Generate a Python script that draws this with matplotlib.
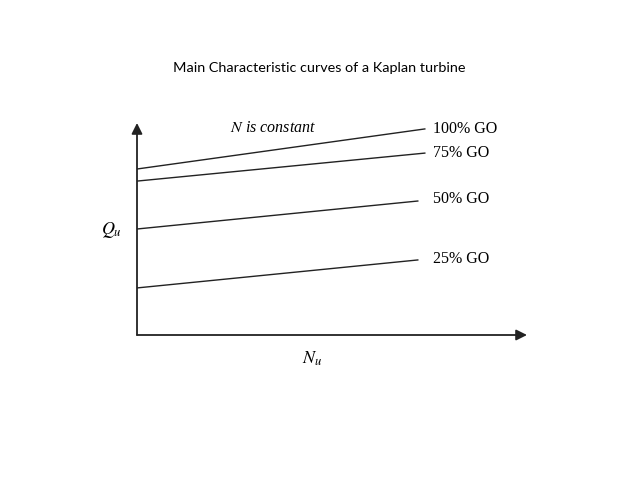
import matplotlib.pyplot as plt

plt.rcParams['mathtext.fontset'] = 'stix'

# gate opening curves: Q_u against N_u (axis units 0..100)
labels = ['100% GO', '75% GO', '50% GO', '25% GO']
n_start = [0, 0, 0, 0]
n_end = [73.8, 73.8, 72.0, 72.0]
q_start = [78.3, 72.6, 50.0, 22.2]
q_end = [97.2, 85.8, 63.2, 35.4]
label_q = [97.2, 85.8, 64.0, 35.8]

fig = plt.figure(figsize=(6.38, 4.78), dpi=100)
fig.text(0.5, 1 - 68 / 478, 'Main Characteristic curves of a Kaplan turbine',
         ha='center', va='center', fontsize=10.4, family='Lato')

ax = fig.add_axes([137 / 638, (478 - 335) / 478, 390 / 638, 212 / 478])
ax.set_xlim(0, 100)
ax.set_ylim(0, 100)
ax.axis('off')

# axes with arrow heads
arrow = dict(arrowstyle='-|>', color='#222222', lw=1.3, mutation_scale=16,
             shrinkA=0, shrinkB=0)
ax.annotate('', xy=(100, 0), xytext=(0, 0), arrowprops=arrow, annotation_clip=False)
ax.annotate('', xy=(0, 100), xytext=(0, 0), arrowprops=arrow, annotation_clip=False)

for lab, x0, x1, y0, y1, ly in zip(labels, n_start, n_end, q_start, q_end, label_q):
    ax.plot([x0, x1], [y0, y1], color='#222222', lw=1.0)
    ax.text(75.8, ly, lab, ha='left', va='center', fontsize=11.5,
            family='Liberation Serif')

serif = dict(family='Liberation Serif', fontsize=11.5)
ax.text(35, 97.5, r'$N$ is constant', ha='center', va='center',
        style='italic', **serif)
ax.text(-6.5, 49.5, r'$Q_u$', ha='center', va='center',
        family='Liberation Serif', fontsize=13)
ax.text(45, -11, r'$N_u$', ha='center', va='center',
        family='Liberation Serif', fontsize=13)

fig.savefig('out.png', dpi=100)
